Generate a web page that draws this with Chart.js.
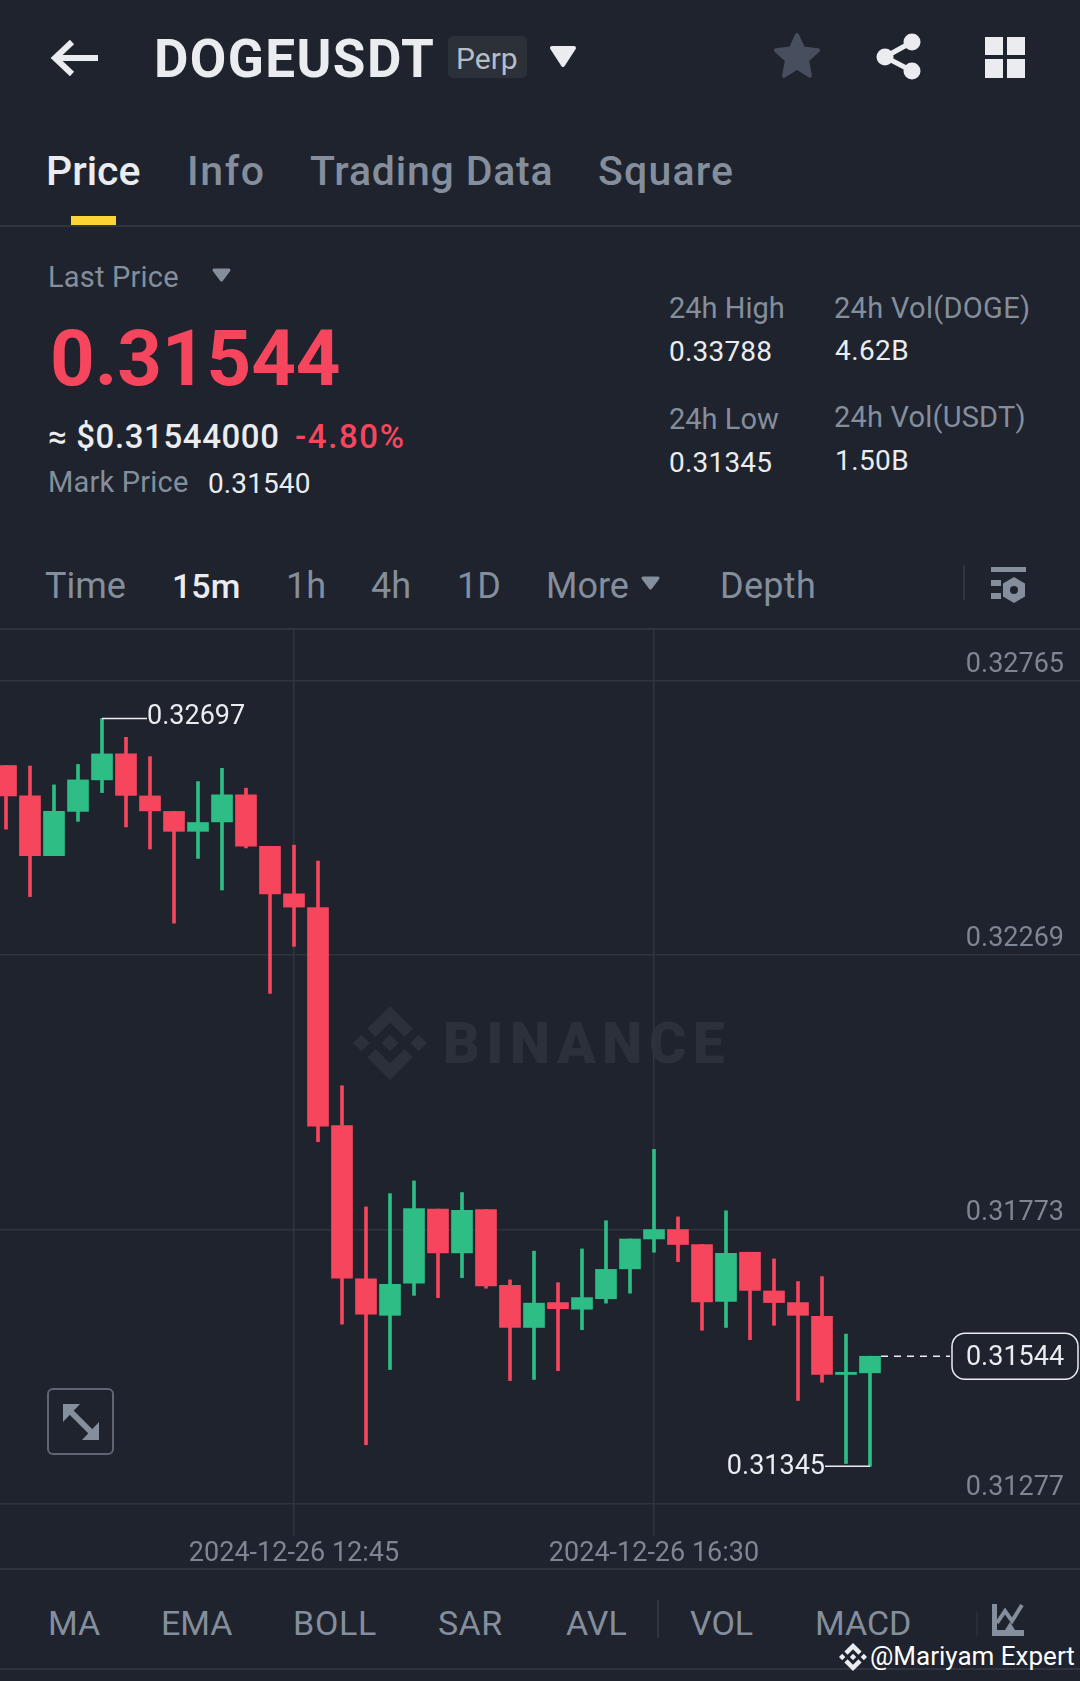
<!DOCTYPE html>
<html>
<head>
<meta charset="utf-8">
<title>DOGEUSDT</title>
<script src="https://cdn.jsdelivr.net/npm/chart.js@4"></script>
<style>
  html, body { margin: 0; padding: 0; background: #1e232d; }
  #page { position: relative; width: 1080px; height: 1681px; overflow: hidden; background: #1e232d;
          font-family: Roboto, sans-serif; }
  #page svg { position: absolute; left: 0; top: 0; }
  #chart { position: absolute; left: 0; top: 630px; }
  .t { position: absolute; white-space: nowrap; line-height: 1; color: #848e9c; }
  .w { color: #eaecef; }
  .m { font-weight: 500; }
  .r { color: #f6465d; }
</style>
</head>
<body>
<div id="page">
  <svg width="1080" height="1681">
    <!-- dividers -->
    <g fill="#2f343e">
      <rect x="0" y="225" width="1080" height="2"/>
      <rect x="0" y="628" width="1080" height="2"/>
      <rect x="0" y="1568" width="1080" height="2"/>
      <rect x="0" y="1668" width="1080" height="2"/>
      <rect x="963" y="565" width="2" height="35"/>
      <rect x="657" y="1600" width="2" height="38"/>
      <rect x="976" y="1612" width="2" height="24" opacity=".6"/>
    </g>
    <rect x="71" y="216" width="45" height="9" fill="#fcd535"/>
    <rect x="448" y="36" width="79" height="42" rx="5" fill="#2b3039"/>
    <!-- header icons -->
    <path d="M72 42 L55 58 L72 74 M56 58 H98" fill="none" stroke="#eaecef" stroke-width="6"/>
    <path d="M552 48 H574 L563 65 Z" fill="#eaecef" stroke="#eaecef" stroke-width="4" stroke-linejoin="round"/>
    <path d="M797 35 L803.2 48.5 L818 50.2 L807 60.2 L810 75.8 L797 67.5 L784 75.8 L787 60.2 L776 50.2 L790.8 48.5 Z"
          fill="#474e5d" stroke="#474e5d" stroke-width="4" stroke-linejoin="round"/>
    <g fill="#eaecef">
      <circle cx="912" cy="42" r="8.5"/><circle cx="885" cy="57" r="8.5"/><circle cx="912" cy="71" r="8.5"/>
      <path d="M912 42 L885 57 L912 71" fill="none" stroke="#eaecef" stroke-width="5"/>
      <rect x="985" y="37" width="18" height="18"/><rect x="1007" y="37" width="18" height="18"/>
      <rect x="985" y="59" width="18" height="19"/><rect x="1007" y="59" width="18" height="19"/>
    </g>
    <path d="M214 270 H229 L221.5 280 Z" fill="#848e9c" stroke="#848e9c" stroke-width="3" stroke-linejoin="round"/>
    <path d="M643 578 H658 L650.5 588 Z" fill="#848e9c" stroke="#848e9c" stroke-width="3" stroke-linejoin="round"/>
    <!-- chart settings icon -->
    <g fill="#848e9c">
      <rect x="991" y="567" width="35" height="5"/>
      <rect x="991" y="580" width="10" height="6"/>
      <rect x="991" y="593" width="10" height="6"/>
      <path d="M1014 577 L1025 583.5 V596.5 L1014 603 L1003 596.5 V583.5 Z"/>
      <circle cx="1014" cy="590" r="4" fill="#1e232d"/>
    </g>
    <!-- watermark -->
    <g transform="translate(353 1006) scale(0.5846)" fill="#2b303a">
      <path d="M38.73 53.2l24.59-24.58 24.6 24.6 14.3-14.31L63.32 0 24.43 38.9z M0 63.31l14.3-14.31 14.31 14.31-14.31 14.3z M38.73 73.41l24.59 24.59 24.6-24.6 14.31 14.29-38.9 38.91-38.91-38.88z M98 63.31l14.3-14.31 14.31 14.3-14.31 14.32z M77.83 63.3L63.32 48.78 52.59 59.51l-1.24 1.23-2.54 2.54 14.51 14.5 14.51-14.47z"/>
    </g>
    <text x="443" y="1063" font-family="Roboto" font-weight="900" font-size="57" letter-spacing="6.5" fill="#2b303a">BINANCE</text>
    <!-- expand button -->
    <rect x="48" y="1389" width="65" height="65" rx="5" fill="none" stroke="#5e6673" stroke-width="2"/>
    <path d="M63 1404 H80 L63 1422 Z M99 1440 H82 L99 1422 Z" fill="#848e9c"/>
    <path d="M71 1412 L91 1432" stroke="#848e9c" stroke-width="6"/>
    <!-- indicator icon -->
    <g fill="#848e9c">
      <path d="M992 1604 H997 V1630 H1024 V1636 H992 Z"/>
      <path d="M1005 1630 H1015 L1010 1622 Z"/>
      <path d="M997 1623 L1005 1611 L1012 1621 L1022 1605" fill="none" stroke="#848e9c" stroke-width="4"/>
    </g>
    <!-- footer logo -->
    <g transform="translate(839 1643) scale(0.2212)" fill="#eaecef">
      <path d="M38.73 53.2l24.59-24.58 24.6 24.6 14.3-14.31L63.32 0 24.43 38.9z M0 63.31l14.3-14.31 14.31 14.31-14.31 14.3z M38.73 73.41l24.59 24.59 24.6-24.6 14.31 14.29-38.9 38.91-38.91-38.88z M98 63.31l14.3-14.31 14.31 14.3-14.31 14.32z M77.83 63.3L63.32 48.78 52.59 59.51l-1.24 1.23-2.54 2.54 14.51 14.5 14.51-14.47z"/>
    </g>
  </svg>

  <canvas id="chart" width="1080" height="940"></canvas>

  <!-- header -->
  <span class="t w" style="left:154px;top:33px;font-size:53px;font-weight:700;letter-spacing:1.4px">DOGEUSDT</span>
  <span class="t" style="left:456px;top:44px;font-size:30px;color:#b7bdc6">Perp</span>
  <span class="t w m" style="left:46px;top:151px;font-size:41px">Price</span>
  <span class="t m" style="left:187px;top:151px;font-size:41px;letter-spacing:1.6px">Info</span>
  <span class="t m" style="left:310px;top:151px;font-size:41px;letter-spacing:.8px">Trading Data</span>
  <span class="t m" style="left:598px;top:151px;font-size:41px;letter-spacing:1.2px">Square</span>

  <!-- price panel -->
  <span class="t" style="left:48px;top:263px;font-size:29px;letter-spacing:.2px">Last Price</span>
  <span class="t r" style="left:50px;top:320px;font-size:78px;font-weight:700;letter-spacing:-.1px">0.31544</span>
  <span class="t w m" style="left:48px;top:420px;font-size:33px;letter-spacing:.6px">≈ $0.31544000</span>
  <span class="t r m" style="left:295px;top:420px;font-size:33px;letter-spacing:1.6px">-4.80%</span>
  <span class="t" style="left:48px;top:468px;font-size:29px;letter-spacing:.2px">Mark Price</span>
  <span class="t w" style="left:208px;top:470px;font-size:28px;letter-spacing:.1px">0.31540</span>
  <span class="t" style="left:669px;top:294px;font-size:29px">24h High</span>
  <span class="t" style="left:834px;top:294px;font-size:29px;letter-spacing:.3px">24h Vol(DOGE)</span>
  <span class="t w" style="left:669px;top:338px;font-size:28px;letter-spacing:.2px">0.33788</span>
  <span class="t w" style="left:835px;top:337px;font-size:28px;letter-spacing:.4px">4.62B</span>
  <span class="t" style="left:669px;top:405px;font-size:29px">24h Low</span>
  <span class="t" style="left:834px;top:403px;font-size:29px;letter-spacing:.2px">24h Vol(USDT)</span>
  <span class="t w" style="left:669px;top:449px;font-size:28px;letter-spacing:.2px">0.31345</span>
  <span class="t w" style="left:835px;top:447px;font-size:28px;letter-spacing:.4px">1.50B</span>

  <!-- interval toolbar -->
  <span class="t" style="left:45px;top:568px;font-size:36px">Time</span>
  <span class="t w m" style="left:172px;top:569px;font-size:34px">15m</span>
  <span class="t" style="left:286px;top:568px;font-size:36px">1h</span>
  <span class="t" style="left:371px;top:568px;font-size:36px">4h</span>
  <span class="t" style="left:457px;top:568px;font-size:36px">1D</span>
  <span class="t" style="left:546px;top:568px;font-size:36px">More</span>
  <span class="t" style="left:720px;top:568px;font-size:36px;letter-spacing:.3px">Depth</span>

  <!-- indicator bar -->
  <span class="t" style="left:48px;top:1606px;font-size:34px">MA</span>
  <span class="t" style="left:161px;top:1606px;font-size:34px">EMA</span>
  <span class="t" style="left:293px;top:1606px;font-size:34px;letter-spacing:.7px">BOLL</span>
  <span class="t" style="left:438px;top:1606px;font-size:34px;letter-spacing:.4px">SAR</span>
  <span class="t" style="left:566px;top:1606px;font-size:34px">AVL</span>
  <span class="t" style="left:690px;top:1606px;font-size:34px">VOL</span>
  <span class="t" style="left:815px;top:1606px;font-size:34px">MACD</span>
  <span class="t" style="left:870px;top:1643px;font-size:26px;color:#fff">@Mariyam Expert</span>
</div>

<script>
// ─── Data (15m candles) ──────────────────────────────────────────────────────

const opens  = [0.32612, 0.32557, 0.32449, 0.32529, 0.32586, 0.32633, 0.32557, 0.32529, 0.32493, 0.32510,
                0.32559, 0.32466, 0.32380, 0.32355, 0.31961, 0.31684, 0.31618, 0.31676, 0.31810, 0.31731,
                0.31809, 0.31672, 0.31596, 0.31641, 0.31629, 0.31648, 0.31702, 0.31756, 0.31773, 0.31746,
                0.31643, 0.31732, 0.31662, 0.31641, 0.31616, 0.31511, 0.31514];
const highs  = [0.32612, 0.32611, 0.32577, 0.32614, 0.32697, 0.32663, 0.32628, 0.32529, 0.32583, 0.32607,
                0.32571, 0.32466, 0.32468, 0.32439, 0.32033, 0.31814, 0.31838, 0.31861, 0.31810, 0.31840,
                0.31809, 0.31682, 0.31734, 0.31677, 0.31738, 0.31789, 0.31756, 0.31918, 0.31796, 0.31746,
                0.31807, 0.31732, 0.31720, 0.31679, 0.31688, 0.31584, 0.31544];
const lows   = [0.32497, 0.32375, 0.32449, 0.32511, 0.32563, 0.32501, 0.32461, 0.32327, 0.32444, 0.32387,
                0.32463, 0.32200, 0.32285, 0.31932, 0.31602, 0.31384, 0.31520, 0.31654, 0.31650, 0.31686,
                0.31667, 0.31500, 0.31502, 0.31518, 0.31592, 0.31640, 0.31658, 0.31732, 0.31715, 0.31591,
                0.31596, 0.31574, 0.31600, 0.31464, 0.31497, 0.31350, 0.31345];
const closes = [0.32557, 0.32449, 0.32529, 0.32586, 0.32633, 0.32558, 0.32530, 0.32493, 0.32509, 0.32559,
                0.32466, 0.32380, 0.32356, 0.31960, 0.31685, 0.31620, 0.31674, 0.31811, 0.31731, 0.31808,
                0.31671, 0.31596, 0.31640, 0.31630, 0.31650, 0.31701, 0.31756, 0.31773, 0.31746, 0.31642,
                0.31730, 0.31663, 0.31641, 0.31618, 0.31511, 0.31515, 0.31544];

const priceTicks = [0.32765, 0.32269, 0.31773, 0.31277];
const timeTickIndexes = [12, 27];
const timeTickLabels  = ['2024-12-26 12:45', '2024-12-26 16:30'];

// ─── Theme ───────────────────────────────────────────────────────────────────

const UP_COLOR   = '#2ebd85';
const DOWN_COLOR = '#f6465d';
const GRID_COLOR = '#2f343e';
const AXIS_TEXT  = '#7e8693';
const MARK_TEXT  = '#eaecef';
const FONT_FAMILY = 'Roboto, sans-serif';

const candleColors = closes.map((c, i) => (c >= opens[i] ? UP_COLOR : DOWN_COLOR));

// ─── High / low / last price marks ───────────────────────────────────────────

const priceMarks = {
  id: 'priceMarks',
  afterDatasetsDraw(chart) {
    const { ctx, scales: { x, y } } = chart;
    const high = Math.max(...highs);
    const low  = Math.min(...lows);
    const last = closes[closes.length - 1];
    const lastX = x.getPixelForValue(closes.length - 1);

    ctx.save();
    ctx.font = `27px ${FONT_FAMILY}`;
    ctx.fillStyle = MARK_TEXT;
    ctx.strokeStyle = MARK_TEXT;
    ctx.lineWidth = 1.5;
    ctx.textBaseline = 'middle';

    // highest point, label on the right
    const hx = x.getPixelForValue(highs.indexOf(high));
    const hy = y.getPixelForValue(high);
    ctx.beginPath(); ctx.moveTo(hx, hy); ctx.lineTo(hx + 45, hy); ctx.stroke();
    ctx.textAlign = 'left';
    ctx.fillText(high.toFixed(5), hx + 45, hy - 1);

    // lowest point, label on the left
    const lx = x.getPixelForValue(lows.indexOf(low));
    const ly = y.getPixelForValue(low);
    ctx.beginPath(); ctx.moveTo(lx, ly); ctx.lineTo(lx - 45, ly); ctx.stroke();
    ctx.textAlign = 'right';
    ctx.fillText(low.toFixed(5), lx - 45, ly + 1);

    // last price, dashed line into a rounded box
    const py = y.getPixelForValue(last);
    ctx.setLineDash([7, 6]);
    ctx.beginPath(); ctx.moveTo(lastX + 11, py); ctx.lineTo(950, py); ctx.stroke();
    ctx.setLineDash([]);
    ctx.beginPath(); ctx.roundRect(952, py - 23, 126, 46, 13);
    ctx.fillStyle = '#1e232d'; ctx.fill();
    ctx.stroke();
    ctx.fillStyle = MARK_TEXT;
    ctx.textAlign = 'center';
    ctx.fillText(last.toFixed(5), 1015, py + 2);
    ctx.restore();
  },
};

// ─── Chart ───────────────────────────────────────────────────────────────────

new Chart(document.getElementById('chart'), {
  type: 'bar',
  data: {
    datasets: [
      {
        label: 'Wick',
        data: highs.map((h, i) => ({ x: i, y: [lows[i], h] })),
        backgroundColor: candleColors,
        barThickness: 3,
        grouped: false,
      },
      {
        label: 'Body',
        data: closes.map((c, i) => ({ x: i, y: [opens[i], c] })),
        backgroundColor: candleColors,
        barThickness: 21,
        grouped: false,
      },
    ],
  },
  options: {
    responsive: false,
    animation: false,
    layout: { padding: 0 },
    plugins: { legend: { display: false }, tooltip: { enabled: false } },
    scales: {
      x: {
        type: 'linear',
        offset: false,
        min: -0.25,
        max: 44.75,
        afterBuildTicks(axis) { axis.ticks = timeTickIndexes.map(value => ({ value })); },
        afterFit(axis) { axis.height = 34; axis.paddingLeft = 0; axis.paddingRight = 0; },
        grid: { color: GRID_COLOR, lineWidth: 1.5, drawTicks: false, offset: false },
        border: { display: false },
        ticks: {
          autoSkip: false,
          maxRotation: 0,
          padding: 2,
          color: AXIS_TEXT,
          font: { family: FONT_FAMILY, size: 27 },
          callback: value => timeTickLabels[timeTickIndexes.indexOf(value)],
        },
      },
      y: {
        position: 'right',
        min: 0.31219,
        max: 0.32857,
        afterBuildTicks(axis) { axis.ticks = priceTicks.map(value => ({ value })); },
        afterFit(axis) { axis.width = 0; axis.paddingTop = 0; axis.paddingBottom = 0; },
        grid: { color: GRID_COLOR, lineWidth: 1.5, drawTicks: false },
        border: { display: false },
        ticks: {
          mirror: true,
          padding: -16,
          labelOffset: -16,
          color: AXIS_TEXT,
          font: { family: FONT_FAMILY, size: 27 },
          callback: value => value.toFixed(5),
        },
      },
    },
  },
  plugins: [priceMarks],
});
</script>
</body>
</html>
